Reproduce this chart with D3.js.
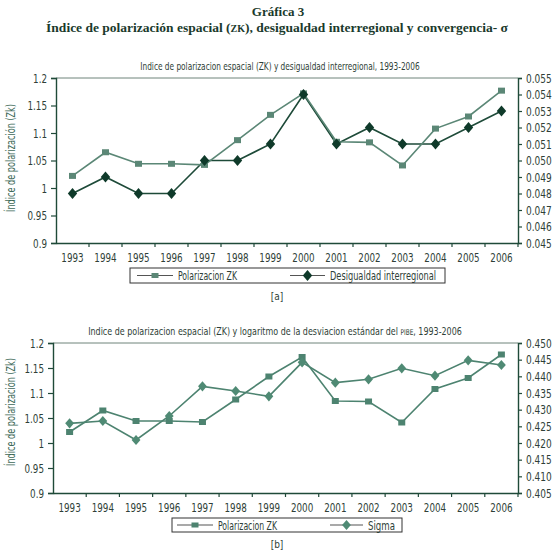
<!DOCTYPE html>
<html><head><meta charset="utf-8">
<script src="https://cdn.jsdelivr.net/npm/d3@7/dist/d3.min.js"></script>
<style>
body{margin:0;background:#fff;}
text{font-family:"DejaVu Sans Condensed","Liberation Sans Narrow",sans-serif;}
</style></head>
<body><svg id="c" width="557" height="555"></svg>
<script>
const years = ["1993","1994","1995","1996","1997","1998","1999","2000","2001","2002","2003","2004","2005","2006"];
const zk = [1.022,1.065,1.044,1.044,1.042,1.087,1.133,1.172,1.084,1.083,1.041,1.108,1.130,1.177];
const desigualdad = [0.048,0.049,0.048,0.048,0.050,0.050,0.051,0.054,0.051,0.052,0.051,0.051,0.052,0.053];
const sigma = [0.4259,0.4266,0.4209,0.4281,0.4370,0.4356,0.4340,0.4442,0.4381,0.4391,0.4424,0.4402,0.4448,0.4434];
const leftTicks = [0.9,0.95,1,1.05,1.1,1.15,1.2];
const rightTicksA = [0.045,0.046,0.047,0.048,0.049,0.050,0.051,0.052,0.053,0.054,0.055];
const rightTicksB = [0.405,0.410,0.415,0.420,0.425,0.430,0.435,0.440,0.445,0.450];

const svg = d3.select("#c");
const axisCol = "#1f4a39";
const textCol = "#2f3f38";
const zkCol = "#5b8776";
const desCol = "#0f3a2a";
const sigCol = "#4d8370";

function squeeze(sel, f){
  sel.each(function(){
    const L = this.getComputedTextLength();
    d3.select(this).attr("textLength", L*f).attr("lengthAdjust","spacingAndGlyphs");
  });
}
function fit(sel, w){
  sel.attr("textLength", w).attr("lengthAdjust","spacingAndGlyphs");
}

// Main titles
svg.append("text").attr("x",278).attr("y",16).attr("text-anchor","middle")
  .style("font-family","Liberation Serif").style("font-weight","bold").style("font-size","13px").attr("fill","#1a3a2c").text("Gráfica 3");
const t2 = svg.append("text").attr("x",277).attr("y",32).attr("text-anchor","middle")
  .style("font-family","Liberation Serif").style("font-weight","bold").style("font-size","13.5px").attr("fill","#1a3a2c");
t2.append("tspan").text("Índice de polarización espacial (");
t2.append("tspan").style("font-size","10px").text("ZK");
t2.append("tspan").text("), desigualdad interregional y convergencia- σ");

function chart(cfg){
  const x = d3.scaleBand().domain(years).range([cfg.x0,cfg.x1]);
  const yL = d3.scaleLinear().domain([0.9,1.2]).range([cfg.yb,cfg.yt]);
  const yR = d3.scaleLinear().domain(cfg.rDomain).range([cfg.yb,cfg.yt]);
  const g = svg.append("g");

  // chart title (scaled horizontally to the reference width)
  const tg = g.append("g");
  const tt = tg.append("text").attr("x",0).attr("y",0).attr("text-anchor","middle")
    .style("font-size","11px").attr("fill",textCol);
  cfg.title.forEach(p=>tt.append("tspan").style("font-size",p[1]||null).text(p[0]));
  const tw = tt.node().getBBox().width;
  tg.attr("transform",`translate(${cfg.titleX},${cfg.yt-8}) scale(${cfg.titleW/tw},1)`);

  // frame top line
  g.append("line").attr("x1",cfg.x0).attr("x2",cfg.x1).attr("y1",cfg.yt).attr("y2",cfg.yt).attr("stroke","#6f847b").attr("stroke-width",1);

  const la = g.append("g").attr("transform",`translate(${cfg.x0},0)`)
    .call(d3.axisLeft(yL).tickValues(leftTicks).tickSize(5).tickPadding(4).tickFormat(d3.format("")));
  const ra = g.append("g").attr("transform",`translate(${cfg.x1},0)`)
    .call(d3.axisRight(yR).tickValues(cfg.rTicks).tickSize(4).tickPadding(4).tickFormat(d3.format(".3f")));
  const xa = g.append("g").attr("transform",`translate(0,${cfg.yb})`)
    .call(d3.axisBottom(x).tickSize(0).tickPadding(10));
  const bounds = years.map(d=>x(d)).concat([cfg.x1]);
  g.selectAll(".bt").data(bounds.slice(1)).enter().append("line")
    .attr("x1",d=>d).attr("x2",d=>d).attr("y1",cfg.yb).attr("y2",cfg.yb+4).attr("stroke",axisCol).attr("stroke-width",1.2);
  [la,ra,xa].forEach(a=>{
    a.selectAll("path").attr("stroke",axisCol).attr("stroke-width",1.4);
    a.selectAll("line").attr("stroke",axisCol).attr("stroke-width",1.2);
    a.selectAll("text").style("font-size","12.5px").attr("fill",textCol).style("font-family",'"DejaVu Sans Condensed",sans-serif');
  });
  squeeze(la.selectAll("text"),0.78);
  squeeze(ra.selectAll("text"),0.8);
  squeeze(xa.selectAll("text"),0.78);

  // y title
  const yt = g.append("text").attr("transform",`translate(15,${cfg.yTitleY}) rotate(-90)`).attr("text-anchor","middle")
    .style("font-size","12px").attr("fill","#3e6a59").text("Índice de polarización (Zk)");
  fit(yt,108);

  const cx = d => x(d)+x.bandwidth()/2;
  const line1 = d3.line().x((d,i)=>cx(years[i])).y(d=>yL(d));
  const line2 = d3.line().x((d,i)=>cx(years[i])).y(d=>yR(d));
  g.append("path").datum(cfg.s2).attr("d",line2).attr("fill","none").attr("stroke",cfg.c2line).attr("stroke-width",1.6);
  g.append("path").datum(zk).attr("d",line1).attr("fill","none").attr("stroke",cfg.c1).attr("stroke-width",1.6);
  g.selectAll(".sq").data(zk).enter().append("rect")
    .attr("x",(d,i)=>cx(years[i])-3.5).attr("y",d=>yL(d)-3).attr("width",7).attr("height",6).attr("fill",cfg.c1);
  g.selectAll(".dm").data(cfg.s2).enter().append("path")
    .attr("d",d3.symbol().type(d3.symbolDiamond).size(cfg.dsize))
    .attr("transform",(d,i)=>`translate(${cx(years[i])},${yR(d)}) scale(1.5,1)`).attr("fill",cfg.c2);

  // legend
  const L = cfg.legend;
  g.append("rect").attr("x",L.x).attr("y",L.y).attr("width",L.w).attr("height",L.h).attr("fill","none").attr("stroke","#333").attr("stroke-width",1);
  const my = L.y+L.h/2;
  g.append("line").attr("x1",L.a1).attr("x2",L.a2).attr("y1",my).attr("y2",my).attr("stroke","#555").attr("stroke-width",1.2);
  g.append("rect").attr("x",(L.a1+L.a2)/2-3.5).attr("y",my-2.5).attr("width",7).attr("height",5).attr("fill",cfg.c1);
  fit(g.append("text").attr("x",L.a2+5).attr("y",my+4.5).style("font-size","12.5px").attr("fill",textCol).text("Polarizacion ZK"),59);
  g.append("line").attr("x1",L.b1).attr("x2",L.b2).attr("y1",my).attr("y2",my).attr("stroke","#555").attr("stroke-width",1.2);
  g.append("path").attr("d",d3.symbol().type(d3.symbolDiamond).size(cfg.dsize)).attr("transform",`translate(${(L.b1+L.b2)/2},${my}) scale(1.5,1)`).attr("fill",cfg.c2);
  fit(g.append("text").attr("x",L.b2+5).attr("y",my+4.5).style("font-size","12.5px").attr("fill",textCol).text(cfg.name2),cfg.name2W);

  g.append("text").attr("x",277).attr("y",cfg.tagY).attr("text-anchor","middle").style("font-size","10px").attr("fill",textCol).text(cfg.tag);
}

chart({x0:56,x1:518,yt:78,yb:243,rDomain:[0.045,0.055],rTicks:rightTicksA,s2:desigualdad,
  c1:zkCol,c2:desCol,c2line:"#1d4a38",dsize:34,name2:"Desigualdad interregional",name2W:106,
  title:[["Indice de polarizacion espacial (ZK) y desigualdad interregional, 1993-2006"]],titleX:280,titleW:280,yTitleY:158,
  legend:{x:130,y:268,w:315,h:15,a1:137,a2:173,b1:290,b2:325},tag:"[a]",tagY:300});

chart({x0:53,x1:518,yt:343,yb:493,rDomain:[0.405,0.450],rTicks:rightTicksB,s2:sigma,
  c1:sigCol,c2:"#4f8a74",c2line:sigCol,dsize:30,name2:"Sigma",name2W:27,
  title:[["Indice de polarizacion espacial (ZK) y logaritmo de la desviacion estándar del "],["PIBE","8px"],[", 1993-2006"]],titleX:275,titleW:374,yTitleY:412,
  legend:{x:172,y:518,w:230,h:14,a1:177,a2:213,b1:330,b2:363},tag:"[b]",tagY:548});
</script></body></html>
